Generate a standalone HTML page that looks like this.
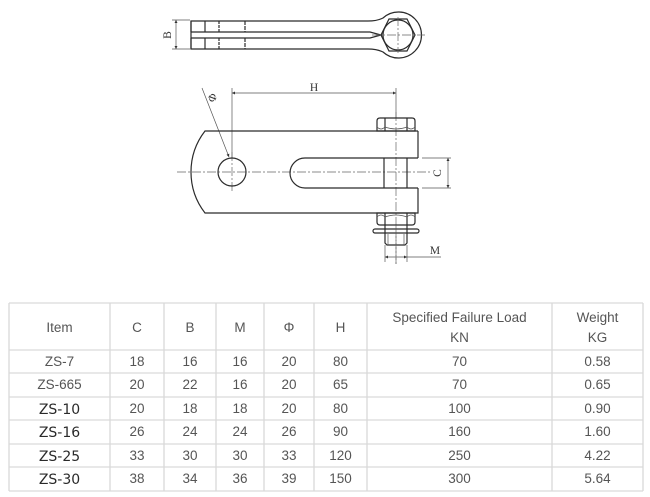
<!DOCTYPE html>
<html><head><meta charset="utf-8"><style>
html,body{margin:0;padding:0;background:#fff;}
svg{display:block;}
.o{fill:none;stroke:#2b2b2b;stroke-width:1.2;}
.t{fill:none;stroke:#555;stroke-width:0.7;}
.c{fill:none;stroke:#666;stroke-width:0.7;stroke-dasharray:9 2 2 2;}
.lb{font-family:"Liberation Serif",serif;font-size:11.5px;fill:#333;}
.tb{font-family:"Liberation Sans",Arial,sans-serif;font-size:13.5px;fill:#555;text-anchor:middle;}
.tm{font-family:"DejaVu Sans",sans-serif;font-size:14px;fill:#2a2a2a;text-anchor:middle;}
.g{stroke:#d9d9d9;stroke-width:1.3;}
</style></head><body>
<svg width="650" height="497" viewBox="0 0 650 497" xmlns="http://www.w3.org/2000/svg">
<defs>
<marker id="a" viewBox="0 0 10 10" refX="10" refY="5" markerUnits="userSpaceOnUse" markerWidth="7" markerHeight="3" orient="auto-start-reverse"><path d="M0,0 L10,5 L0,10 z" fill="#333"/></marker>
</defs>

<!-- ===== TOP VIEW ===== -->
<line class="t" x1="172" y1="20" x2="190" y2="20"/>
<line class="t" x1="172" y1="49" x2="190" y2="49"/>
<line class="t" x1="176" y1="20" x2="176" y2="49" marker-start="url(#a)" marker-end="url(#a)"/>
<text class="lb" transform="translate(171,35) rotate(-90)" text-anchor="middle">B</text>

<path class="o" d="M191,21 L368,21 Q377,21 383,18 A23,23 0 1,1 383,52 Q377,49 368,49 L191,49 Z"/>
<path class="o" d="M191,32 L370,32 L381,35 L370,38 L191,38"/>
<line class="o" x1="191" y1="21" x2="191" y2="32"/>
<line class="o" x1="191" y1="38" x2="191" y2="49"/>
<line class="o" x1="205" y1="21" x2="205" y2="32"/><line class="o" x1="205" y1="38" x2="205" y2="49"/>
<line class="o" x1="219" y1="21" x2="219" y2="32" stroke-dasharray="3 1"/><line class="o" x1="219" y1="38" x2="219" y2="49" stroke-dasharray="3 1"/>
<line class="o" x1="245" y1="21" x2="245" y2="32" stroke-dasharray="4 1"/><line class="o" x1="245" y1="38" x2="245" y2="49" stroke-dasharray="4 1"/>
<polygon class="o" points="381,35 389,19 407,19 415,35 407,51 389,51"/>
<circle class="o" cx="398" cy="35" r="15"/>
<line class="c" x1="372" y1="35" x2="425" y2="35"/>
<line class="c" x1="398" y1="17" x2="398" y2="53"/>

<!-- ===== FRONT VIEW ===== -->
<line class="t" x1="232" y1="88" x2="232" y2="158"/>
<line class="t" x1="396" y1="88" x2="396" y2="118"/>
<line class="t" x1="232" y1="93" x2="396" y2="93" marker-start="url(#a)" marker-end="url(#a)"/>
<text class="lb" x="314" y="91" text-anchor="middle">H</text>
<line class="t" x1="202" y1="88" x2="229" y2="157" marker-end="url(#a)"/>
<text class="lb" transform="translate(216,99) rotate(-70)" text-anchor="middle">Φ</text>

<line class="c" x1="177" y1="172" x2="431" y2="172"/>
<line class="c" x1="232" y1="152" x2="232" y2="192"/>
<line class="c" x1="396" y1="112" x2="396" y2="264"/>

<path class="o" d="M418,131 L205,131 A67,67 0 0,0 205,213 L418,213 L418,188 M418,158 L418,131"/>
<path class="o" d="M418,158 L305,158 A15,15 0 0,0 305,188 L418,188"/>
<circle class="o" cx="232" cy="172" r="14"/>
<line class="o" x1="384" y1="158" x2="384" y2="188"/>
<line class="o" x1="407" y1="158" x2="407" y2="188"/>

<path class="o" d="M380,118 L412,118 Q415,118 415,121 L415,131 L377,131 L377,121 Q377,118 380,118 Z" fill="#fff"/>
<line class="o" x1="385" y1="118" x2="385" y2="131"/>
<line class="o" x1="407" y1="118" x2="407" y2="131"/>
<path class="t" d="M377,127 Q381,131 385,127 M385,127 Q396,131 407,127 M407,127 Q411,131 415,127"/>
<path class="o" d="M377,213 L415,213 L415,222 Q415,225 412,225 L380,225 Q377,225 377,222 Z" fill="#fff"/>
<line class="o" x1="385" y1="213" x2="385" y2="225"/>
<line class="o" x1="407" y1="213" x2="407" y2="225"/>
<path class="t" d="M377,217 Q381,213 385,217 M385,217 Q396,213 407,217 M407,217 Q411,213 415,217"/>
<rect class="o" x="373" y="229" width="46" height="4" rx="2" fill="#fff"/>
<path class="o" d="M385,225 L385,243 L387,245 L405,245 L407,243 L407,225" fill="#fff"/>
<line class="t" x1="388" y1="234" x2="388" y2="245"/>
<line class="t" x1="404" y1="234" x2="404" y2="245"/>
<line class="c" x1="396" y1="225" x2="396" y2="264"/>

<line class="t" x1="385" y1="245" x2="385" y2="262"/>
<line class="t" x1="407" y1="245" x2="407" y2="262"/>
<line class="t" x1="385" y1="257" x2="407" y2="257" marker-start="url(#a)" marker-end="url(#a)"/>
<line class="t" x1="407" y1="257" x2="441" y2="257"/>
<text class="lb" x="435" y="254" text-anchor="middle">M</text>

<line class="t" x1="422" y1="158" x2="451" y2="158"/>
<line class="t" x1="422" y1="188" x2="451" y2="188"/>
<line class="t" x1="448" y1="158" x2="448" y2="188" marker-start="url(#a)" marker-end="url(#a)"/>
<text class="lb" transform="translate(441,173) rotate(-90)" text-anchor="middle">C</text>

<!-- ===== TABLE ===== -->
<g class="g">
<line x1="9" y1="303" x2="643" y2="303"/>
<line x1="9" y1="350" x2="643" y2="350"/>
<line x1="9" y1="373" x2="643" y2="373"/>
<line x1="9" y1="397" x2="643" y2="397"/>
<line x1="9" y1="420" x2="643" y2="420"/>
<line x1="9" y1="444" x2="643" y2="444"/>
<line x1="9" y1="467" x2="643" y2="467"/>
<line x1="9" y1="491" x2="643" y2="491"/>
<line x1="9" y1="303" x2="9" y2="491"/>
<line x1="110" y1="303" x2="110" y2="491"/>
<line x1="164" y1="303" x2="164" y2="491"/>
<line x1="216" y1="303" x2="216" y2="491"/>
<line x1="264" y1="303" x2="264" y2="491"/>
<line x1="314" y1="303" x2="314" y2="491"/>
<line x1="367" y1="303" x2="367" y2="491"/>
<line x1="552" y1="303" x2="552" y2="491"/>
<line x1="643" y1="303" x2="643" y2="491"/>
</g>

<text class="tb" x="59.5" y="332">Item</text>
<text class="tb" x="137" y="332">C</text>
<text class="tb" x="190" y="332">B</text>
<text class="tb" x="240" y="332">M</text>
<text class="tb" x="289" y="332">Φ</text>
<text class="tb" x="340.5" y="332">H</text>
<text class="tb" x="459.5" y="322">Specified Failure Load</text>
<text class="tb" x="459.5" y="342">KN</text>
<text class="tb" x="597.5" y="322">Weight</text>
<text class="tb" x="597.5" y="342">KG</text>

<text class="tb" x="59.5" y="366">ZS-7</text>
<text class="tb" x="137" y="366">18</text><text class="tb" x="190" y="366">16</text><text class="tb" x="240" y="366">16</text><text class="tb" x="289" y="366">20</text><text class="tb" x="340.5" y="366">80</text><text class="tb" x="459.5" y="366">70</text><text class="tb" x="597.5" y="366">0.58</text>

<text class="tb" x="59.5" y="389">ZS-665</text>
<text class="tb" x="137" y="389">20</text><text class="tb" x="190" y="389">22</text><text class="tb" x="240" y="389">16</text><text class="tb" x="289" y="389">20</text><text class="tb" x="340.5" y="389">65</text><text class="tb" x="459.5" y="389">70</text><text class="tb" x="597.5" y="389">0.65</text>

<text class="tm" x="59.5" y="414">ZS-10</text>
<text class="tb" x="137" y="413">20</text><text class="tb" x="190" y="413">18</text><text class="tb" x="240" y="413">18</text><text class="tb" x="289" y="413">20</text><text class="tb" x="340.5" y="413">80</text><text class="tb" x="459.5" y="413">100</text><text class="tb" x="597.5" y="413">0.90</text>

<text class="tm" x="59.5" y="437">ZS-16</text>
<text class="tb" x="137" y="436">26</text><text class="tb" x="190" y="436">24</text><text class="tb" x="240" y="436">24</text><text class="tb" x="289" y="436">26</text><text class="tb" x="340.5" y="436">90</text><text class="tb" x="459.5" y="436">160</text><text class="tb" x="597.5" y="436">1.60</text>

<text class="tm" x="59.5" y="461">ZS-25</text>
<text class="tb" x="137" y="460">33</text><text class="tb" x="190" y="460">30</text><text class="tb" x="240" y="460">30</text><text class="tb" x="289" y="460">33</text><text class="tb" x="340.5" y="460">120</text><text class="tb" x="459.5" y="460">250</text><text class="tb" x="597.5" y="460">4.22</text>

<text class="tm" x="59.5" y="484">ZS-30</text>
<text class="tb" x="137" y="483">38</text><text class="tb" x="190" y="483">34</text><text class="tb" x="240" y="483">36</text><text class="tb" x="289" y="483">39</text><text class="tb" x="340.5" y="483">150</text><text class="tb" x="459.5" y="483">300</text><text class="tb" x="597.5" y="483">5.64</text>
</svg>
</body></html>
